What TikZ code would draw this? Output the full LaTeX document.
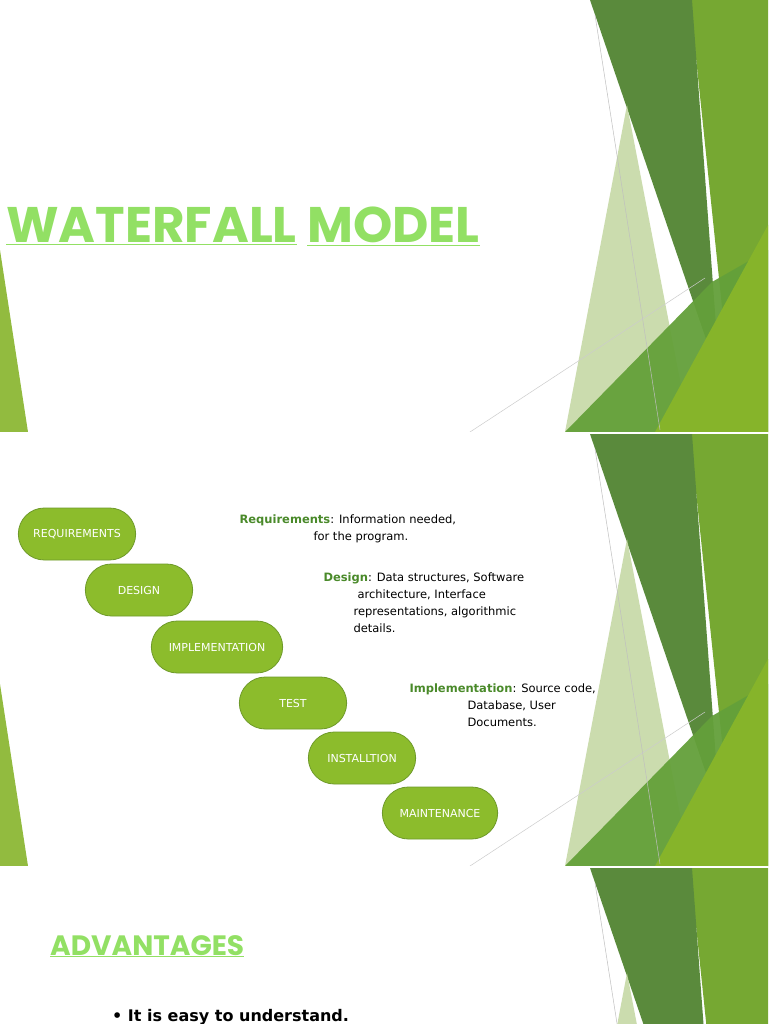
\documentclass[tikz,border=0pt]{standalone}
\usepackage{fontspec}
\setmainfont{DejaVu Sans}
\newfontfamily\titlefont{Poppins}
\usetikzlibrary{shapes.misc}
\definecolor{dkg}{HTML}{5A8A3C}
\definecolor{olv}{HTML}{76A832}
\definecolor{pale}{HTML}{C2D6A0}
\definecolor{medg}{HTML}{64A03A}
\definecolor{brg}{HTML}{86B42A}
\definecolor{ttl}{HTML}{92E064}
\definecolor{pill}{HTML}{8CBC2C}
\definecolor{pillb}{HTML}{6E9A2A}
\definecolor{lbl}{HTML}{4A8A2A}
\tikzset{
 stage/.style={rounded rectangle,fill=pill,draw=pillb,line width=0.8pt,minimum height=52pt,text=white,font=\fontsize{11}{13}\selectfont\addfontfeature{LetterSpace=0}},
 note/.style={align=left,anchor=north west,font=\fontsize{11.5}{17}\selectfont},
}
\newcommand{\deco}{%
 \fill[olv] (690,0)--(768,0)--(768,432)--(735,432)--cycle;
 \fill[dkg] (590,0)--(692,0)--(720,380)--cycle;
 \fill[pale,opacity=0.85] (627,105)--(565,432)--(690,432)--cycle;
 \fill[medg,opacity=0.95] (565,432)--(712,282)--(768,250)--(768,432)--cycle;
 \fill[brg] (655,432)--(768,225)--(768,432)--cycle;
 \draw[gray!50,line width=0.5pt] (595,15)--(660,430);
 \draw[gray!40,line width=0.5pt] (470,432)--(705,278);
 \fill[brg!90!white] (0,250)--(28,432)--(0,432)--cycle;
}
\begin{document}
\begin{tikzpicture}[x=1pt,y=-1pt]
\useasboundingbox (0,0) rectangle (768,1024);
\fill[white] (0,0) rectangle (768,1024);
\begin{scope}\clip (0,0) rectangle (768,432); \deco \end{scope}
\begin{scope}[shift={(0,434)}]\clip (0,0) rectangle (768,432); \deco \end{scope}
\begin{scope}[shift={(0,868)}]\clip (0,0) rectangle (768,156); \deco \end{scope}
\draw[white,line width=1.5pt] (0,433)--(768,433) (0,867)--(768,867);
% title
\node[anchor=base west,text=ttl,inner sep=0,font=\titlefont\bfseries\fontsize{50}{50}\selectfont] (title) at (6,243) {\underline{WATERFALL} \underline{MODEL}};
% stages
\node[stage,minimum width=124pt] (req) at (77,534) {REQUIREMENTS};
\node[stage,minimum width=114pt] (des) at (139,590) {DESIGN};
\node[stage,minimum width=138pt] (imp) at (217,647) {IMPLEMENTATION};
\node[stage,minimum width=114pt] (tst) at (293,703) {TEST};
\node[stage,minimum width=114pt] (ins) at (362,758) {INSTALLTION};
\node[stage,minimum width=122pt] (mnt) at (440,813) {MAINTENANCE};
% notes
\node[note] (n1) at (236,511) {\textcolor{lbl}{\bfseries Requirements}: Information needed,\\\hspace*{74pt}for the program.};
\node[note] (n2) at (320,569) {\textcolor{lbl}{\bfseries Design}: Data structures, Software\\\hspace*{34pt}architecture, Interface\\\hspace*{30pt}representations, algorithmic\\\hspace*{30pt}details.};
\node[note] (n3) at (406,680) {\textcolor{lbl}{\bfseries Implementation}: Source code,\\\hspace*{58pt}Database, User\\\hspace*{58pt}Documents.};
% advantages
\node[anchor=base west,text=ttl,inner sep=0,font=\titlefont\bfseries\fontsize{28}{28}\selectfont] (adv) at (50,955) {\underline{ADVANTAGES}};
\node[anchor=base west,inner sep=0,font=\bfseries\fontsize{16}{16}\selectfont] (b1) at (112,1021) {\textbullet\ It is easy to understand.};
\end{tikzpicture}
\end{document}
